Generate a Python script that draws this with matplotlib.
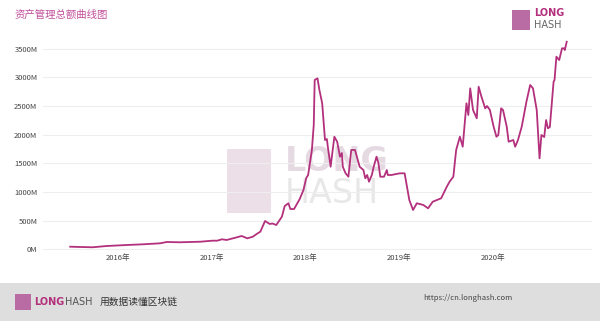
import matplotlib
matplotlib.use("Agg")
import matplotlib.pyplot as plt
from matplotlib.patches import Rectangle

plt.rcParams['font.family'] = ['Noto Sans CJK SC', 'DejaVu Sans']

title = "资产管理总额曲线图"
year_ticks = [2016, 2017, 2018, 2019, 2020]
year_labels = ["2016年", "2017年", "2018年", "2019年", "2020年"]
y_ticks = [0, 500, 1000, 1500, 2000, 2500, 3000, 3500]
y_labels = ["0M", "500M", "1000M", "1500M", "2000M", "2500M", "3000M", "3500M"]

# decimal year
t = [2015.49, 2015.59, 2015.73, 2015.88, 2016.10, 2016.27, 2016.45, 2016.52, 2016.66, 2016.88,
     2017.01, 2017.06, 2017.11, 2017.16, 2017.27, 2017.32, 2017.38, 2017.44, 2017.48, 2017.52,
     2017.57, 2017.62, 2017.65, 2017.69, 2017.75, 2017.78, 2017.82, 2017.84, 2017.88, 2017.91,
     2017.94, 2017.98, 2018.01, 2018.03, 2018.07, 2018.09, 2018.10, 2018.13, 2018.15, 2018.18,
     2018.21, 2018.23, 2018.24, 2018.27, 2018.31, 2018.34, 2018.37, 2018.39, 2018.40, 2018.43,
     2018.46, 2018.49, 2018.53, 2018.55, 2018.58, 2018.62, 2018.64, 2018.66, 2018.68, 2018.71,
     2018.73, 2018.76, 2018.78, 2018.80, 2018.84, 2018.87, 2018.88, 2018.92, 2018.97, 2019.01,
     2019.06, 2019.11, 2019.15, 2019.19, 2019.26, 2019.31, 2019.36, 2019.45, 2019.51, 2019.54,
     2019.58, 2019.61, 2019.65, 2019.68, 2019.72, 2019.74, 2019.76, 2019.79, 2019.83, 2019.85,
     2019.88, 2019.92, 2019.94, 2019.97, 2020.01, 2020.04, 2020.06, 2020.09, 2020.11, 2020.15,
     2020.17, 2020.22, 2020.24, 2020.27, 2020.31, 2020.33, 2020.36, 2020.40, 2020.43, 2020.47,
     2020.50, 2020.52, 2020.55, 2020.57, 2020.59, 2020.61, 2020.65, 2020.66, 2020.68, 2020.71,
     2020.74, 2020.76, 2020.77, 2020.79]

# assets under management, million USD
aum = [47, 42, 37, 59, 77, 89, 106, 129, 124, 134,
       152, 152, 176, 164, 211, 234, 193, 221, 268, 309,
       495, 443, 451, 425, 570, 756, 804, 704, 704, 791,
       878, 1035, 1244, 1297, 1733, 2168, 2953, 2982, 2781, 2547,
       1907, 1924, 1790, 1441, 1964, 1877, 1616, 1680, 1441, 1326,
       1267, 1733, 1733, 1616, 1441, 1384, 1239, 1297, 1180, 1297,
       1441, 1616, 1506, 1267, 1267, 1384, 1297, 1297, 1314, 1326,
       1326, 861, 687, 804, 774, 716, 831, 891, 1093, 1180,
       1267, 1733, 1964, 1790, 2547, 2343, 2808, 2430, 2285, 2836,
       2662, 2459, 2499, 2430, 2139, 1964, 1994, 2459, 2430, 2139,
       1877, 1907, 1790, 1907, 2139, 2313, 2574, 2866, 2808, 2430,
       1588, 1994, 1959, 2255, 2111, 2133, 2923, 2953, 3359, 3301,
       3505, 3505, 3476, 3620]

W, H = 600, 321
fig = plt.figure(figsize=(W / 100, H / 100), dpi=100)
fig.patch.set_facecolor("white")

# axes placement in pixels
left, right, top, bottom = 43, 592, 38, 251
ax = fig.add_axes([left / W, 1 - bottom / H, (right - left) / W, (bottom - top) / H])
ax.set_xlim(2015.20, 2021.06)
ax.set_ylim(-28, 3685)

# watermark in the plot
ax.add_patch(Rectangle((0.335, 0.18), 0.08, 0.30, transform=ax.transAxes,
                       facecolor="#ecdfe8", edgecolor="none", zorder=0))
ax.text(0.44, 0.42, "LONG", transform=ax.transAxes, fontsize=24, color="#e6dae2",
        fontweight="bold", family="DejaVu Sans", zorder=0, va="center")
ax.text(0.44, 0.27, "HASH", transform=ax.transAxes, fontsize=24, color="#e8e8e8",
        family="DejaVu Sans", zorder=0, va="center")

ax.plot(t, aum, color="#b3307c", lw=1.3, zorder=3)

ax.set_yticks(y_ticks)
ax.set_yticklabels(y_labels)
ax.set_xticks(year_ticks)
ax.set_xticklabels(year_labels)
ax.tick_params(axis="both", length=0, labelsize=5.5, colors="#444444")
ax.tick_params(axis="y", pad=4)
ax.tick_params(axis="x", pad=2)
ax.grid(axis="y", color="#eeeeee", lw=0.8)
ax.set_axisbelow(True)
for s in ax.spines.values():
    s.set_visible(False)

# title
fig.text(15 / W, 1 - 15 / H, title, fontsize=7.5, color="#c2509a", va="center", ha="left")

# top-right logo
fig.add_artist(Rectangle((512 / W, 1 - 30 / H), 18 / W, 20 / H, facecolor="#b86ca3",
                         edgecolor="none"))
fig.text(534 / W, 1 - 13 / H, "LONG", fontsize=7, color="#b3307c", fontweight="bold",
         family="DejaVu Sans", va="center")
fig.text(534 / W, 1 - 25 / H, "HASH", fontsize=7, color="#666666",
         family="DejaVu Sans", va="center")

# footer band
fig.add_artist(Rectangle((0, 0), 1, (H - 283) / H, facecolor="#dedede", edgecolor="none"))
fig.add_artist(Rectangle((15 / W, 1 - 310 / H), 16 / W, 16 / H, facecolor="#b86ca3",
                         edgecolor="none"))
fig.text(34 / W, 1 - 302 / H, "LONG", fontsize=7, color="#b3307c", fontweight="bold",
         family="DejaVu Sans", va="center")
fig.text(65 / W, 1 - 302 / H, "HASH", fontsize=7, color="#555555",
         family="DejaVu Sans", va="center")
fig.text(100 / W, 1 - 302 / H, "用数据读懂区块链", fontsize=7, color="#333333", va="center")
fig.text(512 / W, 1 - 298 / H, "https://cn.longhash.com", fontsize=5.5, color="#444444",
         va="center", ha="right")

fig.savefig("out.png", dpi=100)
